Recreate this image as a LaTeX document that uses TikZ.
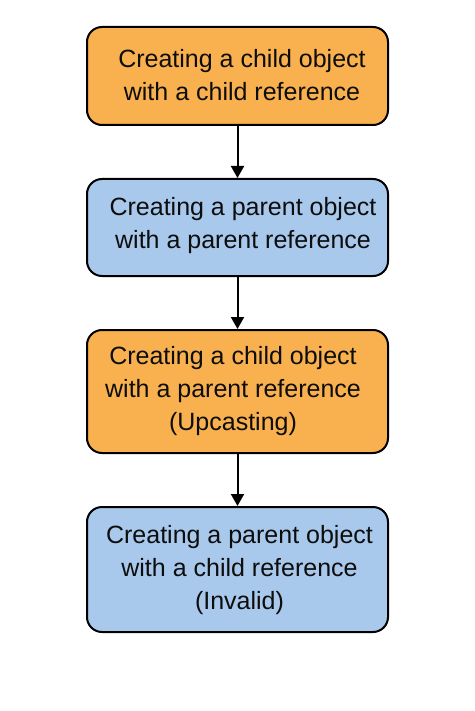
\documentclass[tikz,border=0pt]{standalone}
\usepackage{fontspec}
\setmainfont{Liberation Sans}
\usetikzlibrary{arrows.meta}
\definecolor{boxorange}{HTML}{F8B14E}
\definecolor{boxblue}{HTML}{A8C8EC}
\tikzset{
  stepbox/.style={draw=black, line width=2pt, rounded corners=15pt, minimum width=301pt, inner sep=0pt},
  boxtext/.style={align=center, inner sep=0pt, font=\fontsize{25pt}{33pt}\selectfont, text=black!95},
  flowarrow/.style={line width=2pt, -{Triangle[width=13pt,length=12pt]}}
}
\begin{document}
\begin{tikzpicture}[x=1pt,y=-1pt]
\useasboundingbox[fill=white] (0,0) rectangle (474,711);
\node[stepbox, fill=boxorange, minimum height=98pt] (b1) at (237.5,76) {};
\node[stepbox, fill=boxblue, minimum height=97pt] (b2) at (237.5,227.5) {};
\node[stepbox, fill=boxorange, minimum height=123pt] (b3) at (237.5,391.5) {};
\node[stepbox, fill=boxblue, minimum height=125pt] (b4) at (237.5,569.5) {};
\node[boxtext] (t1) at (242,75.5) {Creating a child object\\with a child reference};
\node[boxtext] (t2) at (243,226) {Creating a parent object\\with a parent reference};
\node[boxtext] (t3) at (233,391) {Creating a child object\\with a parent reference\\(Upcasting)};
\node[boxtext] (t4) at (239.5,570) {Creating a parent object\\with a child reference\\(Invalid)};
\draw[flowarrow] (b1.south) -- (b2.north);
\draw[flowarrow] (b2.south) -- (b3.north);
\draw[flowarrow] (b3.south) -- (b4.north);
\end{tikzpicture}
\end{document}
